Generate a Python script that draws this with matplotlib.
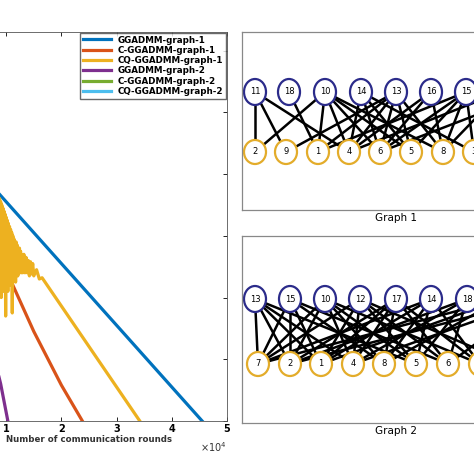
import numpy as np
import matplotlib.pyplot as plt
from matplotlib.patches import Ellipse

# Convergence curves (x in units of 1e4 rounds, y as log10 of error)
blue_x = [0.0, 4.55]
blue_log = [-3.45, -8.0]
orange_x = [0.8, 1.09, 1.5, 2.0, 2.38]
orange_log = [-5.0, -5.74, -6.55, -7.42, -8.0]
yellow_x = [0.86, 0.87, 0.88, 0.89, 0.90, 0.91, 0.92, 0.93, 0.94, 0.95, 0.96, 0.97,
            0.98, 0.99, 1.00, 1.01, 1.02, 1.03, 1.04, 1.05, 1.06, 1.07, 1.08, 1.09,
            1.10, 1.11, 1.12, 1.13, 1.14, 1.15, 1.16, 1.17, 1.18, 1.19, 1.20, 1.21,
            1.22, 1.23, 1.24, 1.25, 1.26, 1.27, 1.28, 1.30, 1.32, 1.34, 1.36, 1.38,
            1.40, 1.42, 1.44, 1.46, 1.48, 1.50, 1.55, 1.60, 1.65, 3.42]
yellow_log = [-4.35, -5.9, -4.4, -5.8, -4.45, -6.0, -4.5, -5.85, -4.55, -5.9, -4.6, -5.8,
              -4.65, -6.3, -4.7, -5.75, -4.75, -5.9, -4.8, -5.7, -4.85, -5.8, -4.9, -5.65,
              -4.95, -6.25, -5.0, -5.7, -5.05, -5.6, -5.1, -5.75, -5.1, -5.6, -5.15, -5.65,
              -5.2, -5.6, -5.2, -5.55, -5.25, -5.6, -5.3, -5.6, -5.3, -5.6, -5.35, -5.6,
              -5.4, -5.65, -5.42, -5.62, -5.45, -5.65, -5.55, -5.7, -5.68, -8.0]
purple_x = [0.6, 0.9, 1.03]
purple_log = [-6.3, -7.4, -8.0]
green_x = [0.0, 0.5]
green_log = [-6.0, -8.0]
cyan_x = [0.0, 0.6]
cyan_log = [-5.5, -8.0]
legend_labels = ['GGADMM-graph-1', 'C-GGADMM-graph-1', 'CQ-GGADMM-graph-1',
                 'GGADMM-graph-2', 'C-GGADMM-graph-2', 'CQ-GGADMM-graph-2']
colors = ['#0072BD', '#D95319', '#EDB120', '#7E2F8E', '#77AC30', '#4DBEEE']

# Graph 1 nodes (x position in px inside panel) and edges
g1_top = ['11', '18', '10', '14', '13', '16', '15', '12', '17']
g1_top_x = [255, 289, 325, 361, 396, 431, 466, 501, 536]
g1_bot = ['2', '9', '1', '4', '6', '5', '8', '3', '7']
g1_bot_x = [255, 286, 318, 349, 380, 411, 443, 474, 505]
g1_edges = [('11', '2'), ('11', '9'), ('11', '4'), ('18', '1'), ('10', '2'), ('10', '1'),
            ('10', '4'), ('10', '6'), ('10', '5'), ('10', '8'), ('14', '4'), ('14', '6'),
            ('14', '5'), ('13', '9'), ('13', '1'), ('13', '4'), ('13', '6'), ('13', '5'),
            ('13', '8'), ('16', '4'), ('16', '6'), ('16', '8'), ('15', '1'), ('15', '6'),
            ('15', '5'), ('15', '8'), ('15', '3'), ('12', '4'), ('12', '8'), ('12', '3'),
            ('17', '6'), ('17', '7'), ('14', '3')]

# Graph 2 nodes and edges
g2_top = ['13', '15', '10', '12', '17', '14', '18', '11', '16']
g2_top_x = [255, 290, 325, 360, 396, 431, 467, 502, 537]
g2_bot = ['7', '2', '1', '4', '8', '5', '6', '3', '9']
g2_bot_x = [258, 290, 321, 353, 384, 416, 448, 480, 512]
g2_edges = [('13', '7'), ('13', '2'), ('13', '1'), ('13', '4'), ('13', '5'),
            ('15', '7'), ('15', '2'), ('15', '1'), ('15', '8'), ('15', '6'),
            ('10', '7'), ('10', '2'), ('10', '4'), ('10', '8'), ('10', '5'), ('10', '3'),
            ('12', '7'), ('12', '1'), ('12', '4'), ('12', '5'), ('12', '6'), ('12', '9'),
            ('17', '2'), ('17', '1'), ('17', '4'), ('17', '8'), ('17', '6'), ('17', '3'),
            ('14', '7'), ('14', '1'), ('14', '8'), ('14', '5'), ('14', '3'),
            ('18', '2'), ('18', '4'), ('18', '5'), ('18', '6'), ('18', '9'),
            ('11', '7'), ('11', '1'), ('11', '8'), ('11', '3'),
            ('16', '2'), ('16', '4'), ('16', '6'), ('16', '9')]

W = H = 474.0
fig = plt.figure(figsize=(4.74, 4.74), dpi=100)


def px_axes(x0, y0, x1, y1):
    # axes rectangle given in image pixels (top-left origin)
    return fig.add_axes([x0 / W, 1 - y1 / H, (x1 - x0) / W, (y1 - y0) / H])


# Left convergence plot (extends off the left edge)
ax = px_axes(-49, 32, 227, 421)
series = [(blue_x, blue_log), (orange_x, orange_log), (yellow_x, yellow_log),
          (purple_x, purple_log), (green_x, green_log), (cyan_x, cyan_log)]
order = [4, 5, 0, 1, 2, 3]
handles = [None] * 6
for i in order:
    xs, ls = series[i]
    handles[i], = ax.plot(xs, 10.0 ** np.array(ls), color=colors[i], lw=2.3,
                          label=legend_labels[i])
ax.set_yscale('log')
ax.set_xlim(0, 5)
ax.set_ylim(1e-8, 10 ** -1.7)
ax.set_xticks([1, 2, 3, 4, 5])
ax.set_xticklabels(['1', '2', '3', '4', '5'], fontweight='bold', fontsize=7)
ax.set_yticks([10.0 ** k for k in range(-8, -1)])
ax.set_yticklabels([])
ax.yaxis.set_minor_locator(plt.NullLocator())
ax.tick_params(direction='in', right=True, top=True, length=3, pad=2, width=0.6)
for s in ax.spines.values():
    s.set_linewidth(0.6)
    s.set_color('#555555')
ax.set_xlabel('Number of communication rounds', fontweight='bold', fontsize=6.2,
              labelpad=1, color='#333333')
ax.text(1.0, -0.05, r'$\times10^4$', transform=ax.transAxes, ha='right', va='top',
        fontsize=7, color='#333333')
ax.legend(handles=handles, loc='upper right', prop={'weight': 'bold', 'size': 6.3},
          frameon=True, fancybox=False, edgecolor='#444444', borderaxespad=0.1,
          handlelength=3.2, labelspacing=0.15, borderpad=0.3)


def draw_graph(y0, y1, top, top_x, bot, bot_x, edges, ytop, ybot, title):
    g = px_axes(242, y0, 550, y1)
    g.set_xlim(242, 550)
    g.set_ylim(y1, y0)
    g.set_xticks([])
    g.set_yticks([])
    for s in g.spines.values():
        s.set_color('#888888')
        s.set_linewidth(0.9)
    tpos = dict(zip(top, top_x))
    bpos = dict(zip(bot, bot_x))
    for a, b in edges:
        g.plot([tpos[a], bpos[b]], [ytop, ybot], color='black', lw=1.8, zorder=1)
    for name, x in zip(top, top_x):
        g.add_patch(Ellipse((x, ytop), 22, 26, facecolor='white', edgecolor='#2b2b8a',
                            lw=1.6, zorder=2))
        g.text(x, ytop, name, ha='center', va='center', fontsize=6, zorder=3)
    for name, x in zip(bot, bot_x):
        g.add_patch(Ellipse((x, ybot), 22, 24, facecolor='white', edgecolor='#e3ac2a',
                            lw=1.6, zorder=2))
        g.text(x, ybot, name, ha='center', va='center', fontsize=6, zorder=3)
    g.text(396, y1 + 8, title, ha='center', va='center', fontsize=7.5, clip_on=False)


draw_graph(32, 210, g1_top, g1_top_x, g1_bot, g1_bot_x, g1_edges, 92, 152, 'Graph 1')
draw_graph(236, 423, g2_top, g2_top_x, g2_bot, g2_bot_x, g2_edges, 299, 364, 'Graph 2')

fig.savefig('out.png', dpi=100)
